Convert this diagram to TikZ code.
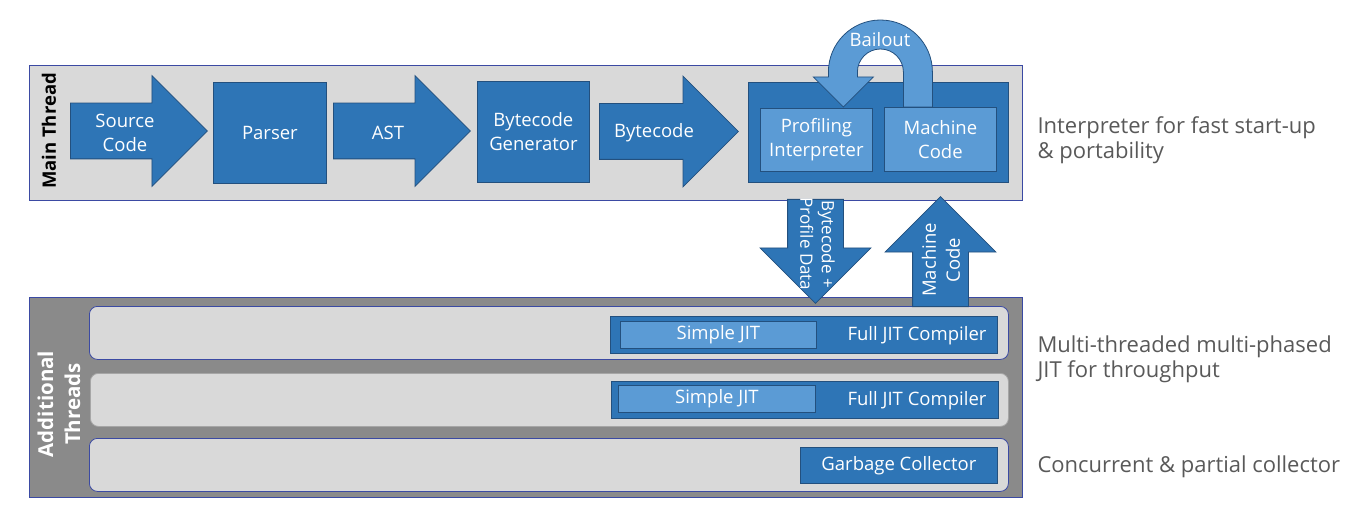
\documentclass[tikz,border=0pt]{standalone}
\usepackage{fontspec}
\setmainfont{Open Sans}
\usetikzlibrary{shapes.arrows}

\definecolor{panelgrey}{HTML}{D9D9D9}
\definecolor{threadgrey}{HTML}{8A8A8A}
\definecolor{frameblue}{HTML}{3B4AA3}
\definecolor{blockblue}{HTML}{2E75B6}
\definecolor{edgeblue}{HTML}{23507E}
\definecolor{lightblue}{HTML}{5B9BD5}
\definecolor{sidegrey}{HTML}{595959}
\definecolor{rowgrey}{HTML}{A6A6A6}

\begin{document}
\begin{tikzpicture}[x=1pt,y=1pt,
    panel/.style={draw=frameblue, line width=0.8pt, anchor=north west, inner sep=0pt},
    lane/.style={panel, fill=panelgrey, rounded corners=8pt, minimum width=919pt, minimum height=53pt},
    block/.style={draw=edgeblue, fill=blockblue, line width=0.8pt, anchor=north west, inner sep=0pt},
    subblock/.style={block, fill=lightblue},
    bigarrow/.style={single arrow, draw=edgeblue, fill=blockblue, line width=0.8pt, inner sep=27.5pt,
        single arrow head extend=27.5pt, minimum width=110pt, anchor=tail},
    wtext/.style={text=white, font=\fontsize{18.5}{24}\selectfont, align=center},
    side/.style={text=sidegrey, font=\fontsize{22}{25}\selectfont, align=left, anchor=west}
]
\useasboundingbox (0,0) rectangle (1366,-513);

% Main thread
\node[panel, fill=panelgrey, minimum width=993pt, minimum height=135pt] (mainbox) at (29,-65) {};
\node[rotate=90, font=\fontsize{18.5}{20}\selectfont\bfseries] (maintitle) at (49,-131) {Main Thread};

\node[bigarrow, minimum height=137pt] (srcarrow) at (70,-131) {};
\node[wtext] (srctext) at ([xshift=55pt,yshift=-1.5pt]srcarrow.tail) {Source\\Code};
\node[block, wtext, minimum width=113pt, minimum height=101pt] (parser) at (213,-82.5) {Parser};
\node[bigarrow, minimum height=137pt] (astarrow) at (333,-131) {};
\node[wtext] (asttext) at ([xshift=55pt,yshift=-1.5pt]astarrow.tail) {AST};
\node[block, wtext, minimum width=112pt, minimum height=101pt] (bcgen) at (477,-81) {Bytecode\\Generator};
\node[bigarrow, minimum height=139pt] (bcarrow) at (599,-131.5) {};
\node[wtext] (bctext) at ([xshift=55pt,yshift=-1.5pt]bcarrow.tail) {Bytecode};

\node[block, minimum width=260pt, minimum height=100pt] (interp) at (748,-82) {};
\node[subblock, wtext, minimum width=112pt, minimum height=63pt] (profiling) at (760,-108) {Profiling\\Interpreter};
\node[subblock, wtext, minimum width=112pt, minimum height=64pt] (mcode) at (884,-107) {Machine\\Code};

% Bailout loop
\draw[draw=edgeblue, fill=lightblue, line width=0.8pt] ([xshift=-8pt]mcode.north) -- ++(0,35)
    arc[start angle=0, end angle=180, radius=52] -- ++(0,-5) -- ++(-15,0) -- ++(30,-30)
    -- ++(30,30) -- ++(-16,0) -- ++(0,5) arc[start angle=180, end angle=0, radius=23] -- ++(0,-35) -- cycle;
\node[wtext] (bailtext) at (880,-40) {Bailout};

% Additional threads
\node[panel, fill=threadgrey, minimum width=993pt, minimum height=200pt] (threadbox) at (29,-297) {};
\node[rotate=90, text=white, align=center, font=\fontsize{20.5}{27}\selectfont\bfseries] (threadtitle) at (59,-404) {Additional\\Threads};

\node[lane] (lane1) at (89,-306) {};
\node[lane, draw=rowgrey, minimum width=918pt] (lane2) at (90,-373) {};
\node[lane] (lane3) at (89,-438) {};

\node[block, minimum width=387pt, minimum height=37pt] (fulljit1) at (610,-316) {};
\node[subblock, wtext, minimum width=196pt, minimum height=27pt] (simplejit1) at (620,-321) {Simple JIT};
\node[wtext] (fjtext1) at (917,-335.5) {Full JIT Compiler};
\node[block, minimum width=387pt, minimum height=37pt] (fulljit2) at (611,-381) {};
\node[subblock, wtext, minimum width=197pt, minimum height=27pt] (simplejit2) at (618,-385) {Simple JIT};
\node[wtext] (fjtext2) at (917,-401) {Full JIT Compiler};
\node[block, wtext, minimum width=197pt, minimum height=36pt] (gc) at (800,-447) {Garbage Collector};

% Between threads
\node[bigarrow, shape border rotate=270, minimum height=104pt] (downarrow) at (815.5,-199) {};
\node[wtext, rotate=-90, font=\fontsize{17}{21.5}\selectfont] (downtext) at (817.5,-244) {Bytecode +\\Profile Data};
\node[bigarrow, shape border rotate=90, minimum height=110pt] (uparrow) at (940.5,-307) {};
\node[wtext, rotate=90] (uptext) at (941,-260) {Machine\\Code};

% Notes
\node[side] (note1) at (1034,-140) {Interpreter for fast start-up\\\& portability};
\node[side] (note2) at (1034,-359) {Multi-threaded multi-phased\\JIT for throughput};
\node[side] (note3) at (1034,-467) {Concurrent \& partial collector};
\end{tikzpicture}
\end{document}
